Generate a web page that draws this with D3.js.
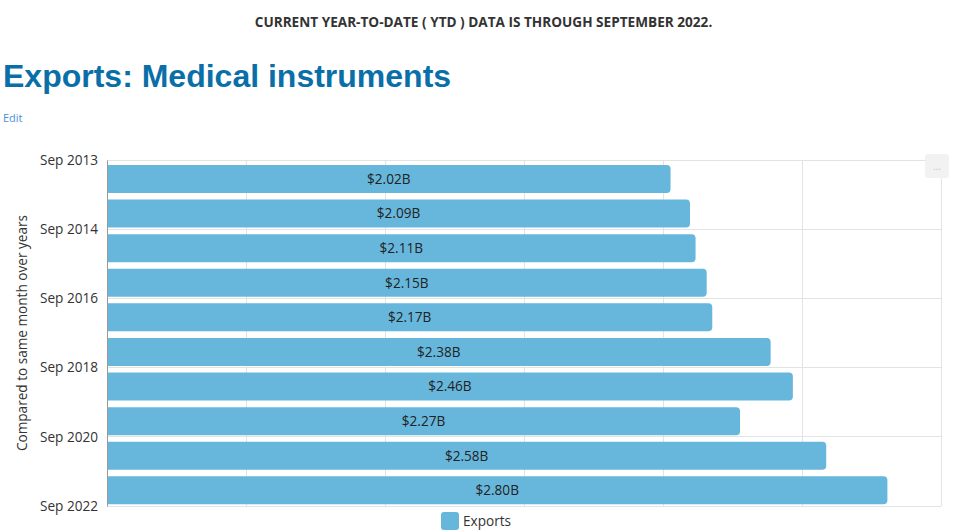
<!DOCTYPE html>
<html><head><meta charset="utf-8">
<script src="https://cdn.jsdelivr.net/npm/d3@7"></script>
<style>
html,body{margin:0;padding:0;background:#fff;}
body{width:959px;height:532px;overflow:hidden;position:relative;font-family:"Open Sans",sans-serif;}
</style></head><body>
<svg id="c" width="959" height="532"></svg>
<script>
const categories = ["Sep 2013","Sep 2014","Sep 2015","Sep 2016","Sep 2017","Sep 2018","Sep 2019","Sep 2020","Sep 2021","Sep 2022"];
const exportsValues = [2.02, 2.09, 2.11, 2.15, 2.17, 2.38, 2.46, 2.27, 2.58, 2.80];
const tickLabels = ["Sep 2013","Sep 2014","Sep 2016","Sep 2018","Sep 2020","Sep 2022"];
const xTicks = [0, 0.5, 1, 1.5, 2, 2.5, 3];

const svg = d3.select("#c");
const m = {left:107, top:160};
const pw = 941 - m.left, ph = 506 - m.top;

svg.append("text").attr("x",483.5).attr("y",27).attr("text-anchor","middle")
  .attr("font-family","Open Sans").attr("font-weight","bold").attr("font-size","13.6px").attr("fill","#333")
  .text("CURRENT YEAR-TO-DATE ( YTD ) DATA IS THROUGH SEPTEMBER 2022.");
svg.append("text").attr("x",3).attr("y",87)
  .attr("font-family","Liberation Sans, Arial").attr("font-weight","bold").attr("font-size","32px").attr("fill","#0a6fa8")
  .text("Exports: Medical instruments");
svg.append("text").attr("x",3).attr("y",122)
  .attr("font-family","Open Sans").attr("font-size","11px").attr("fill","#4a90d9")
  .text("Edit");

const g = svg.append("g").attr("transform",`translate(${m.left},${m.top})`);
const x = d3.scaleLinear().domain([0,3]).range([0,pw]);
const y = d3.scaleBand().domain(categories).range([0,ph]).paddingInner(0.19).paddingOuter(0.095).align(0.75);
const yt = d3.scalePoint().domain(tickLabels).range([0,ph]);

// grid
g.selectAll(".vg").data(xTicks).join("line")
  .attr("x1",d=>x(d)).attr("x2",d=>x(d)).attr("y1",0).attr("y2",ph)
  .attr("stroke","#e3e3e3").attr("stroke-width",1).attr("shape-rendering","crispEdges");
g.selectAll(".hg").data(tickLabels).join("line")
  .attr("x1",0).attr("x2",pw).attr("y1",d=>yt(d)).attr("y2",d=>yt(d))
  .attr("stroke","#e3e3e3").attr("stroke-width",1).attr("shape-rendering","crispEdges");

// bars with rounded right corners
const r = 4;
g.selectAll(".bar").data(categories).join("path")
  .attr("fill","#67b7dc")
  .attr("d",(d,i)=>{
    const x0 = 0, x1 = x(exportsValues[i]) + 2, y0 = y(d), bh = y.bandwidth();
    return `M${x0},${y0}H${x1-r}Q${x1},${y0} ${x1},${y0+r}V${y0+bh-r}Q${x1},${y0+bh} ${x1-r},${y0+bh}H${x0}Z`;
  });
g.selectAll(".lbl").data(categories).join("text")
  .attr("x",(d,i)=>(x(exportsValues[i])+2)/2).attr("y",d=>y(d)+y.bandwidth()/2)
  .attr("dy","0.35em").attr("text-anchor","middle")
  .attr("font-family","Open Sans").attr("font-size","13.6px").attr("fill","#222")
  .text((d,i)=>"$"+exportsValues[i].toFixed(2)+"B");

// y axis
const ya = g.append("g").call(d3.axisLeft(yt).tickSize(0).tickPadding(9));
ya.select(".domain").attr("stroke","#999").attr("stroke-width",1);
ya.selectAll("text").attr("font-family","Open Sans").attr("font-size","13.6px").attr("fill","#333");
svg.append("text").attr("transform",`translate(27,${m.top+ph/2}) rotate(-90)`)
  .attr("text-anchor","middle").attr("font-family","Open Sans").attr("font-size","13.6px").attr("fill","#333")
  .text("Compared to same month over years");

// legend
svg.append("rect").attr("x",441).attr("y",512).attr("width",18).attr("height",18).attr("rx",3).attr("fill","#67b7dc");
svg.append("text").attr("x",463).attr("y",526).attr("font-family","Open Sans").attr("font-size","13.6px").attr("fill","#333").text("Exports");

// menu button
svg.append("rect").attr("x",925).attr("y",154).attr("width",24).attr("height",24).attr("rx",3).attr("fill","#f2f2f2");
svg.append("text").attr("x",937).attr("y",170).attr("text-anchor","middle").attr("font-family","Open Sans").attr("font-size","10px").attr("fill","#b8c8dc").text("...");
</script>
</body></html>
